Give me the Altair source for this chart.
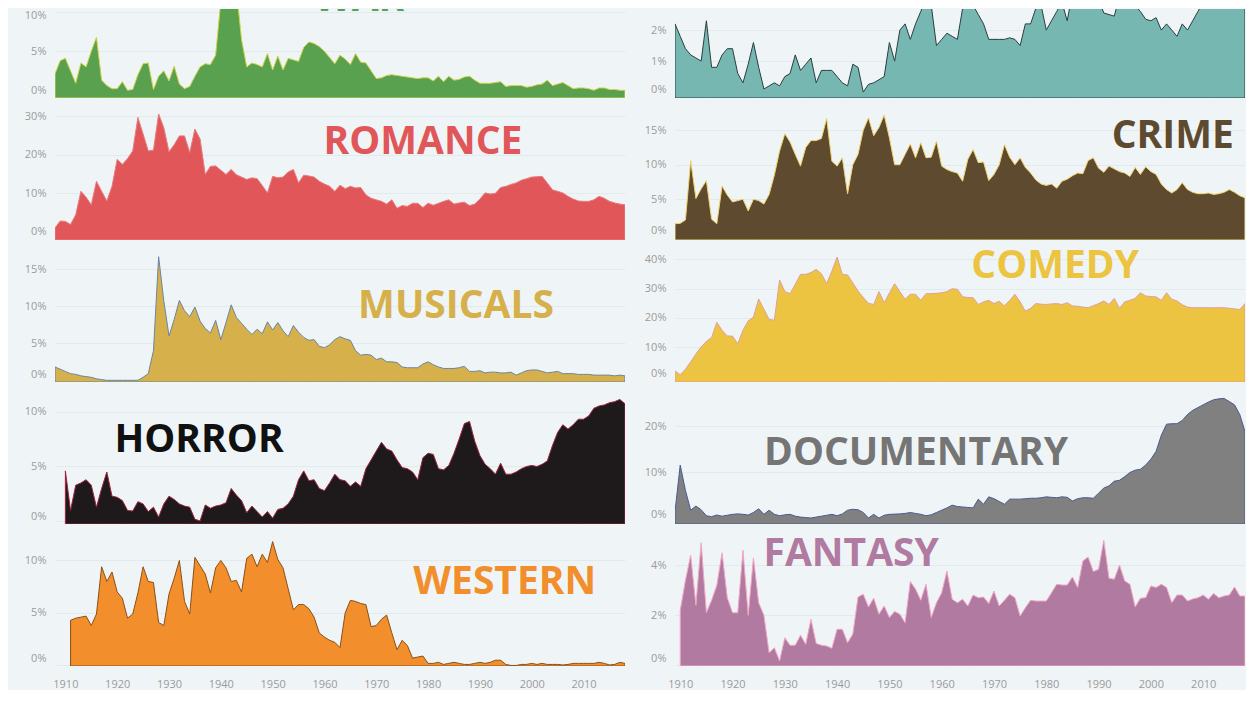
import altair as alt
import pandas as pd

# ---------------- data: share of films released each year (%) ----------------
war_start = 1908
war = [
    2.1, 3.8,
    4.1, 2.5, 0.9, 3.5, 3.0, 5.0, 6.8, 1.3, 0.6, 0.2,
    0.2, 1.1, 0.0, 0.1, 2.0, 3.4, 3.5, 0.1, 1.8, 2.5,
    1.2, 3.1, 0.8, 0.2, 0.5, 1.8, 3.0, 3.4, 3.3, 4.5,
    11.5, 14.0, 15.0, 13.0, 6.5, 3.0, 3.5, 3.3, 3.0, 4.7,
    2.6, 4.4, 2.6, 4.1, 3.9, 3.7, 5.5, 6.2, 6.0, 5.6,
    5.0, 4.2, 3.4, 4.5, 4.0, 3.3, 4.7, 3.6, 3.5, 2.5,
    1.5, 1.6, 1.9, 2.0, 1.9, 1.8, 1.7, 1.6, 1.5, 1.6,
    1.6, 1.2, 1.8, 1.1, 1.8, 1.3, 1.4, 1.7, 1.8, 1.3,
    0.9, 0.9, 0.9, 1.0, 1.1, 0.5, 0.6, 0.6, 0.6, 0.4,
    0.5, 0.7, 0.8, 1.3, 0.6, 0.8, 1.0, 0.6, 0.2, 0.3,
    0.3, 0.2, 0.0, 0.3, 0.3, 0.1, 0.1, 0.0, 0.0,
]

romance_start = 1908
romance = [
    1.0, 2.8,
    2.7, 1.9, 4.4, 10.5, 9.0, 7.0, 13.1, 10.5, 8.0, 11.8,
    18.8, 17.5, 19.0, 21.0, 29.7, 25.4, 21.0, 21.2, 30.6, 27.0,
    20.8, 22.6, 24.9, 24.9, 20.6, 26.7, 24.1, 14.9, 17.0, 17.1,
    16.0, 14.9, 16.2, 14.8, 14.2, 13.6, 14.0, 13.8, 12.0, 10.1,
    14.4, 14.0, 14.2, 15.5, 16.2, 12.7, 14.7, 14.5, 14.2, 13.1,
    12.4, 11.8, 10.5, 12.1, 11.2, 11.8, 11.4, 11.5, 9.6, 8.7,
    8.3, 7.9, 7.2, 8.3, 6.1, 6.8, 6.6, 7.4, 7.4, 6.3,
    7.4, 6.9, 7.4, 7.9, 8.3, 7.2, 7.5, 7.7, 6.8, 7.2,
    8.5, 10.1, 9.8, 10.0, 11.5, 11.8, 12.3, 12.7, 13.4, 13.8,
    14.2, 14.3, 14.4, 12.7, 10.9, 10.5, 10.1, 9.2, 8.5, 8.0,
    7.9, 7.9, 8.3, 9.2, 8.7, 7.9, 7.5, 7.2, 7.0,
]

musicals_start = 1908
musicals = [
    1.8, 1.5,
    1.2, 0.9, 0.8, 0.6, 0.5, 0.4, 0.2, 0.1, 0.0, 0.0,
    0.0, 0.0, 0.0, 0.0, 0.0, 0.4, 0.9, 4.0, 16.7, 10.7,
    6.0, 8.2, 10.8, 9.4, 8.6, 9.9, 8.0, 7.0, 6.4, 8.1,
    5.5, 7.8, 10.2, 8.5, 7.7, 6.9, 6.2, 6.9, 6.3, 7.9,
    6.8, 7.8, 6.7, 5.9, 7.4, 6.5, 5.8, 5.4, 5.5, 4.6,
    4.4, 4.8, 5.5, 5.9, 5.6, 5.4, 4.0, 3.4, 3.5, 3.4,
    2.8, 3.0, 2.5, 2.5, 2.4, 1.8, 1.7, 1.7, 1.7, 2.2,
    2.5, 2.1, 1.8, 1.6, 1.6, 1.6, 1.7, 1.9, 1.2, 1.2,
    1.3, 1.0, 1.1, 1.1, 1.0, 1.0, 1.1, 0.7, 1.0, 1.3,
    1.4, 1.4, 1.2, 1.0, 1.1, 1.2, 0.9, 0.9, 0.9, 0.8,
    0.8, 0.8, 0.7, 0.7, 0.7, 0.7, 0.6, 0.7, 0.6,
]

horror_start = 1910
horror = [
    4.6, 1.0, 3.3, 3.5, 3.8, 3.3, 1.3, 3.0, 4.5, 2.3,
    2.2, 1.9, 1.0, 0.95, 1.8, 1.6, 0.9, 1.3, 0.4, 1.6,
    2.3, 2.0, 1.6, 1.4, 1.3, 0.2, 0.05, 1.5, 1.2, 1.4,
    1.5, 1.7, 3.0, 2.4, 1.9, 0.8, 1.4, 0.9, 0.4, 0.9,
    0.3, 1.1, 1.2, 1.6, 2.3, 3.8, 4.6, 3.7, 3.8, 3.0,
    2.8, 3.5, 4.3, 3.8, 3.7, 3.2, 3.6, 3.2, 4.8, 5.6,
    6.4, 7.2, 6.6, 6.4, 5.6, 4.9, 4.8, 4.5, 3.8, 5.8,
    6.2, 6.1, 4.8, 4.7, 5.1, 6.2, 7.5, 8.9, 9.1, 7.3,
    6.0, 5.2, 4.8, 4.3, 5.3, 4.3, 4.3, 4.5, 4.8, 5.0,
    5.1, 5.0, 5.2, 5.5, 6.9, 8.1, 8.8, 8.4, 8.8, 9.3,
    9.3, 9.6, 10.3, 10.5, 10.6, 10.8, 10.9, 11.1, 10.7,
]

western_start = 1911
western = [
    4.3, 4.5, 4.6, 4.7, 3.8, 4.9, 9.4, 8.0, 8.9,
    7.0, 6.4, 4.5, 4.9, 6.9, 9.4, 8.0, 7.9, 4.1, 3.8,
    6.8, 8.3, 10.0, 6.1, 4.9, 10.3, 9.5, 8.7, 6.9, 9.3,
    10.0, 9.3, 8.0, 8.1, 7.0, 10.2, 10.6, 9.4, 10.6, 9.8,
    11.8, 10.1, 9.3, 7.3, 5.3, 5.8, 5.8, 5.4, 4.6, 3.1,
    2.7, 2.4, 2.2, 1.7, 5.0, 6.2, 6.1, 5.9, 5.8, 3.7,
    3.8, 4.4, 4.8, 3.1, 1.5, 2.4, 1.9, 0.7, 0.8, 0.9,
    0.2, 0.2, 0.3, 0.1, 0.2, 0.3, 0.2, 0.1, 0.1, 0.2,
    0.3, 0.2, 0.3, 0.5, 0.5, 0.1, 0.0, 0.0, 0.1, 0.1,
    0.2, 0.1, 0.2, 0.1, 0.1, 0.1, 0.05, 0.1, 0.2, 0.2,
    0.2, 0.2, 0.2, 0.3, 0.2, 0.05, 0.1, 0.3, 0.2,
]

scifi_start = 1909
scifi = [
    2.2,
    1.8, 1.4, 1.2, 1.1, 1.0, 2.3, 0.8, 0.8, 1.2, 1.4,
    1.4, 0.6, 0.3, 0.9, 1.6, 0.8, 0.1, 0.2, 0.3, 0.2,
    0.5, 0.6, 1.2, 0.7, 0.9, 1.1, 0.3, 0.7, 0.7, 0.7,
    0.5, 0.3, 0.2, 0.9, 0.8, 0.0, 0.25, 0.3, 0.4, 0.5,
    1.6, 1.0, 2.0, 2.2, 1.7, 2.2, 2.6, 3.1, 2.8, 1.5,
    1.7, 1.9, 1.8, 1.7, 2.7, 2.9, 2.8, 2.5, 2.2, 1.7,
    1.7, 1.7, 1.7, 1.75, 1.7, 1.5, 2.2, 2.2, 2.7, 2.8,
    2.0, 2.3, 2.6, 2.9, 2.3, 3.2, 3.3, 3.1, 3.4, 3.2,
    3.0, 2.55, 2.5, 2.45, 3.1, 3.2, 3.0, 2.8, 2.6, 2.35,
    2.3, 2.4, 2.0, 2.2, 2.0, 1.8, 2.2, 2.0, 2.3, 2.6,
    2.9, 2.8, 2.9, 3.1, 3.0, 3.2, 3.3, 3.4, 3.5,
]

crime_start = 1909
crime = [
    1.45,
    1.5, 2.0, 10.6, 5.1, 6.5, 7.7, 2.1, 1.45, 6.9, 5.6,
    4.6, 4.8, 5.0, 3.3, 5.0, 4.8, 4.3, 5.7, 8.5, 12.0,
    14.5, 13.3, 11.5, 9.8, 12.5, 13.5, 13.5, 13.8, 16.7, 10.5,
    9.8, 11.0, 5.8, 10.0, 11.5, 15.0, 16.8, 14.2, 15.4, 17.2,
    13.9, 10.0, 10.0, 11.5, 13.0, 11.0, 13.2, 11.0, 11.1, 13.4,
    9.8, 9.3, 9.0, 8.8, 7.6, 10.8, 12.2, 10.3, 10.4, 7.7,
    8.6, 10.0, 12.9, 11.1, 10.0, 11.0, 9.6, 8.8, 7.8, 7.2,
    7.0, 7.2, 6.6, 7.6, 7.9, 8.4, 8.8, 8.7, 10.6, 11.0,
    9.5, 8.9, 9.8, 9.4, 9.0, 8.8, 8.3, 9.6, 8.6, 9.7,
    9.0, 8.6, 7.2, 6.4, 5.9, 6.4, 7.4, 6.4, 6.0, 5.8,
    5.8, 5.9, 5.7, 5.8, 6.0, 6.4, 6.0, 5.5, 5.2,
]

comedy_start = 1909
comedy = [
    1.9,
    0.6, 2.5, 5.0, 7.7, 10.1, 12.0, 13.3, 18.5, 15.8, 13.8,
    13.8, 11.2, 15.8, 19.0, 20.3, 26.5, 23.0, 19.5, 19.2, 33.0,
    29.0, 28.3, 31.5, 34.9, 34.9, 35.5, 36.6, 35.1, 31.7, 36.0,
    40.8, 34.9, 34.7, 32.0, 29.2, 27.0, 25.0, 24.6, 29.0, 25.2,
    28.5, 31.7, 29.0, 26.4, 28.1, 28.1, 26.0, 28.3, 28.3, 28.4,
    28.6, 29.0, 30.0, 29.8, 27.2, 27.0, 26.9, 24.6, 25.5, 26.0,
    24.9, 25.7, 24.1, 26.0, 28.1, 25.5, 22.3, 23.3, 24.9, 24.7,
    24.6, 24.8, 24.9, 24.6, 25.2, 24.1, 24.0, 23.7, 23.5, 24.2,
    24.9, 25.8, 24.6, 26.7, 23.3, 25.5, 26.0, 26.7, 28.6, 27.5,
    27.3, 27.2, 26.0, 28.6, 26.4, 25.8, 24.5, 23.7, 23.5, 23.5,
    23.5, 23.5, 23.5, 23.5, 23.5, 23.3, 23.1, 22.9, 24.9,
]

documentary_start = 1909
documentary = [
    1.4,
    11.5, 6.0, 1.7, 2.6, 1.8, 0.5, 0.3, 0.65, 0.4, 0.6,
    0.8, 0.9, 0.8, 0.65, 1.2, 2.0, 0.8, 1.7, 0.8, 0.5,
    0.7, 0.8, 0.4, 0.2, 0.1, 0.0, 0.2, 0.4, 0.6, 0.8,
    0.5, 0.9, 1.7, 1.9, 1.8, 1.2, 0.0, 0.8, 0.0, 0.6,
    0.8, 0.85, 0.9, 1.0, 1.2, 1.0, 0.8, 0.5, 0.7, 1.2,
    1.7, 2.2, 2.8, 2.5, 2.4, 2.3, 2.2, 4.1, 3.0, 4.6,
    4.2, 3.6, 3.0, 4.1, 4.1, 4.1, 4.2, 4.3, 4.3, 4.4,
    4.6, 4.5, 4.4, 4.6, 4.5, 3.7, 4.2, 4.4, 4.4, 4.3,
    5.4, 6.5, 7.0, 8.0, 8.2, 9.0, 9.9, 10.4, 10.6, 11.5,
    12.8, 14.5, 18.0, 20.4, 20.5, 20.5, 21.2, 22.5, 23.4, 24.0,
    24.6, 25.2, 25.7, 25.9, 26.0, 25.3, 24.6, 22.5, 18.8,
]

fantasy_start = 1910
fantasy = [
    2.2, 3.4, 4.4, 2.4, 4.9, 2.1, 2.6, 3.2, 4.5, 2.7,
    2.1, 2.1, 4.6, 2.0, 4.3, 2.5, 2.0, 0.5, 0.7, 0.17,
    1.1, 0.8, 0.8, 1.2, 0.84, 1.84, 0.87, 0.8, 0.77, 0.68,
    1.44, 1.44, 0.9, 1.24, 2.73, 2.84, 2.33, 2.68, 2.04, 2.37,
    1.91, 2.15, 2.04, 1.7, 3.35, 3.04, 2.6, 3.24, 1.91, 2.5,
    2.9, 3.77, 2.64, 2.5, 2.64, 2.37, 2.81, 2.7, 2.73, 2.47,
    2.97, 2.37, 2.6, 2.84, 2.7, 1.97, 2.3, 2.6, 2.57, 2.57,
    2.57, 2.9, 3.24, 3.21, 3.21, 3.53, 3.11, 4.17, 4.33, 3.75,
    3.84, 5.0, 3.48, 3.44, 4.01, 3.37, 3.24, 2.33, 2.68, 2.7,
    3.17, 3.11, 3.24, 3.11, 2.5, 2.81, 2.81, 2.57, 2.65, 2.7,
    2.81, 2.64, 2.87, 2.7, 2.77, 2.81, 3.13, 2.77, 2.77,
]

decade_ticks = [1910, 1920, 1930, 1940, 1950, 1960, 1970, 1980, 1990, 2000, 2010]

# ---------------- styling ----------------
BG = "#eff5f7"
AXIS_GRAY = "#9b9b9b"
GRID = "#e2eaed"
FONT = "Open Sans"


def panel(name, start, values, xdom, ydom, ticks, fill, stroke, title_color,
          title_at, height, nudges, show_x=False, clip_title=False):
    years = list(range(start, start + len(values)))
    df = pd.DataFrame({"year": years, "share": values})
    if show_x:
        x_axis = alt.Axis(values=decade_ticks, format="d", ticks=False, domain=False,
                          grid=False, labelColor=AXIS_GRAY, labelFontSize=11,
                          labelFont=FONT, labelPadding=12)
    else:
        x_axis = None
    x = alt.X("year:Q", scale=alt.Scale(domain=xdom, nice=False, zero=False),
              axis=x_axis, title=None)
    conds = [{"test": f"datum.value === {v}", "value": off} for v, off in nudges.items()]
    y_kwargs = dict(values=ticks, labelExpr="datum.value + '%'", ticks=False,
                    domain=False, grid=True, gridColor=GRID, gridWidth=1,
                    labelColor=AXIS_GRAY, labelFontSize=11, labelFont=FONT,
                    labelPadding=9, minExtent=46, maxExtent=46)
    if conds:
        y_kwargs["labelOffset"] = {"condition": conds, "value": 0}
    y = alt.Y("share:Q", scale=alt.Scale(domain=ydom, nice=False, zero=False),
              axis=alt.Axis(**y_kwargs), title=None)
    area = alt.Chart(df).mark_area(
        fill=fill, stroke=stroke, strokeWidth=1, fillOpacity=1, clip=True,
        interpolate="linear",
    ).encode(x=x, y=y, y2=alt.datum(ydom[0]))
    tdf = pd.DataFrame({"label": [name], "year": [title_at[0]], "share": [title_at[1]]})
    text = alt.Chart(tdf).mark_text(
        font=FONT, fontWeight="bold", fontSize=39, color=title_color,
        align="center", baseline="middle", clip=clip_title,
    ).encode(x=x, y=y, text="label:N")
    return alt.layer(area, text).properties(width=570, height=height)


LX = [1908, 2018]
RX = [1909, 2018]

panels = [
    panel("WAR", war_start, war, LX, [-0.99, 10.42], [0, 5, 10],
          "#59a14f", "#d3d34a", "#55a05a", (1966.7, 11.7), 89, {10: 3.5}, clip_title=True),
    panel("SCI-FI", scifi_start, scifi, RX, [-0.19, 2.68], [0, 1, 2],
          "#76b7b2", "#2c3d3d", "#76b7b2", (1934.8, 3.19), 89, {0: -3}, clip_title=True),
    panel("ROMANCE", romance_start, romance, LX, [-2.13, 33.18], [0, 10, 20, 30],
          "#e15759", "#ea7a7e", "#e15759", (1979.0, 23.3), 136, {}),
    panel("CRIME", crime_start, crime, RX, [-0.91, 18.8], [0, 5, 10, 15],
          "#5e4a2f", "#f2d36a", "#5e4a2f", (2004.2, 14.2), 136, {0: -3}),
    panel("MUSICALS", musicals_start, musicals, LX, [-0.23, 18.15], [0, 5, 10, 15],
          "#d5b04b", "#6a86a0", "#d5b04b", (1985.4, 10.0), 136, {0: -6}),
    panel("COMEDY", comedy_start, comedy, RX, [-1.88, 44.57], [0, 10, 20, 30, 40],
          "#ecc441", "#e0a0a0", "#ecc441", (1981.7, 37.7), 136, {0: -3}),
    panel("HORROR", horror_start, horror, LX, [-0.23, 12.14], [0, 5, 10],
          "#1e1a1b", "#a0203c", "#111111", (1935.8, 7.4), 136, {0: -5}),
    panel("DOCUMENTARY", documentary_start, documentary, RX, [-1.30, 28.26], [0, 10, 20],
          "#808080", "#4a5a90", "#757575", (1955.1, 14.1), 136, {0: -4}),
    panel("WESTERN", western_start, western, LX, [-0.05, 12.9], [0, 5, 10],
          "#f28e2b", "#8a5018", "#f28e2b", (1994.8, 7.95), 136, {0: -7}, show_x=True),
    panel("FANTASY", fantasy_start, fantasy, RX, [-0.03, 5.41], [0, 2, 4],
          "#b07aa1", "#f4a7c4", "#b07aa1", (1942.7, 4.45), 136, {0: -7}, show_x=True),
]

chart = alt.concat(
    *panels, columns=2, spacing={"row": 6, "column": 50}, bounds="flush", align="each"
).properties(
    padding=0
).configure(
    background=BG, font=FONT
).configure_view(
    stroke="transparent"
)

chart.save("out.html", embed_options={"renderer": "svg", "actions": False})
